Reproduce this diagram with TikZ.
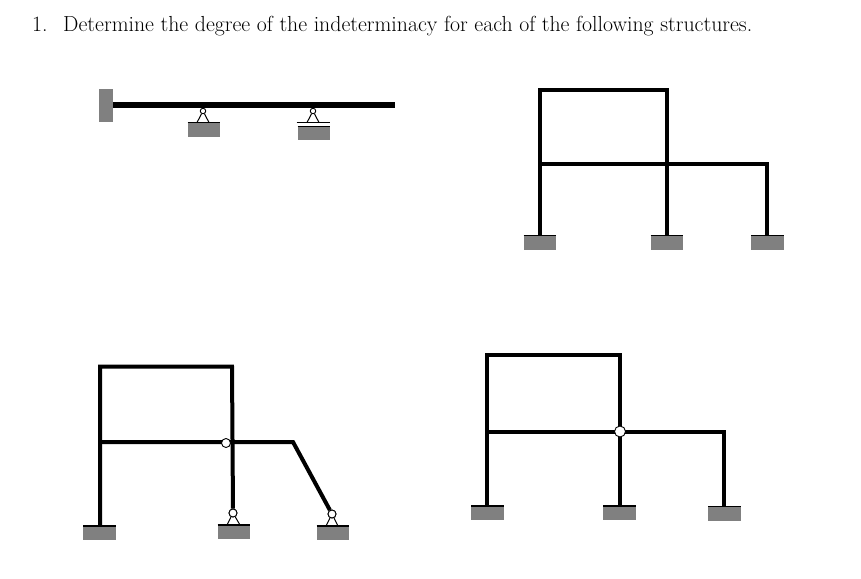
\documentclass[tikz,border=0pt]{standalone}
\usetikzlibrary{calc}
\definecolor{groundgray}{gray}{0.5}
\tikzstyle{ground} = [fill=groundgray, rectangle, anchor=north, inner sep=0pt,
    minimum height=14pt, minimum width=32.5pt]
\tikzstyle{wall} = [fill=groundgray, rectangle, inner sep=0pt,
    minimum height=33pt, minimum width=14pt]
\tikzstyle{pin} = [draw, fill=white, circle, inner sep=0pt, line width=0.9pt, minimum size=8pt]
\tikzstyle{hinge} = [draw, fill=white, circle, inner sep=0pt, line width=0.9pt, minimum size=9pt]
\tikzstyle{member} = [line width=4pt, line join=miter]
\tikzstyle{seat} = [line width=1.3pt]
\tikzstyle{leg} = [line width=1pt]
\tikzstyle{title} = [anchor=base west, inner sep=0pt, font=\fontsize{21.8}{26}\selectfont]

\begin{document}
\begin{tikzpicture}[x=1pt, y=-1pt]
    \useasboundingbox (0,0) rectangle (861,578);
    \node [title] (num) at (32,32) {1.};
    \node [title] (question) at (63,32) {Determine the degree of the indeterminacy for each of the following structures.};

    % propped beam
    \node [wall] (wall) at (106,105.5) {};
    \coordinate (tip) at (395,104.5);
    \node [ground] (base1) at (204,122.5) {};
    \node [ground, minimum height=13pt] (base2) at (314,126.5) {};
    \node [pin, minimum size=5.5pt] (pin1) at (203,111) {};
    \node [pin, minimum size=5.5pt] (pin2) at (313,111) {};
    \draw [member, line width=6pt] (wall.east |- tip) -- (tip);
    \draw [seat] (base1.north west) -- (base1.north east);
    \draw [seat] ($(base2.north west)+(-1,-4)$) -- ($(base2.north east)+(0,-4)$);
    \draw [seat] (base2.north west) -- (base2.north east);
    \draw [leg] (pin1) -- ([xshift=-7pt]base1.north);
    \draw [leg] (pin1) -- ([xshift=5pt]base1.north);
    \draw [leg] (pin2) -- (307,122.5);
    \draw [leg] (pin2) -- (319,122.5);

    % fixed frame
    \coordinate (b1) at (540,89.5);
    \coordinate (b2) at (667,89.5);
    \coordinate (b3) at (540,163.5);
    \coordinate (b4) at (767,163.5);
    \node [ground] (bbase1) at (540,235.5) {};
    \node [ground] (bbase2) at (667,235.5) {};
    \node [ground] (bbase3) at (767.5,235.5) {};
    \draw [member] (bbase1.north) -- (b1) -- (b2) -- (bbase2.north);
    \draw [member] (b3) -- (b4) -- (b4 |- bbase3.north);
    \draw [seat] (bbase1.north west) -- (bbase1.north east);
    \draw [seat] (bbase2.north west) -- (bbase2.north east);
    \draw [seat] (bbase3.north west) -- (bbase3.north east);

    % frame on pins
    \coordinate (c1) at (100,366.5);
    \coordinate (c2) at (232,366.5);
    \coordinate (c3) at (100,442);
    \coordinate (c4) at (293,442);
    \node [ground] (cbase1) at (99.5,526) {};
    \node [ground] (cbase2) at (234,525) {};
    \node [ground] (cbase3) at (333,526) {};
    \node [pin] (cpin2) at (233,513) {};
    \node [pin] (cpin3) at (332,514) {};
    \draw [member] (cbase1.north -| c1) -- (c1) -- (c2) -- (cpin2);
    \draw [member] (c3) -- (c4) -- (cpin3);
    \node [pin] at (cpin2) {};
    \node [pin] at (cpin3) {};
    \node [hinge] (chinge) at (226,443) {};
    \draw [seat] (cbase1.north west) -- (cbase1.north east);
    \draw [seat] (cbase2.north west) -- (cbase2.north east);
    \draw [seat] (cbase3.north west) -- (cbase3.north east);
    \draw [leg] (cpin2) -- (227,525);
    \draw [leg] (cpin2) -- (240,525);
    \draw [leg] (cpin3) -- (326,526);
    \draw [leg] (cpin3) -- (338,526);

    % frame with hinge
    \coordinate (d1) at (487,354.5);
    \coordinate (d2) at (620,354.5);
    \coordinate (d3) at (487,431.5);
    \coordinate (d4) at (724,431.5);
    \node [ground] (dbase1) at (487.5,506) {};
    \node [ground] (dbase2) at (619.5,506) {};
    \node [ground] (dbase3) at (724.5,506.5) {};
    \draw [member] (dbase1.north -| d1) -- (d1) -- (d2) -- (dbase2.north -| d2);
    \draw [member] (d3) -- (d4) -- (d4 |- dbase3.north);
    \node [hinge, minimum size=11pt] (dhinge) at (620,431.5) {};
    \draw [seat] (dbase1.north west) -- (dbase1.north east);
    \draw [seat] (dbase2.north west) -- (dbase2.north east);
    \draw [seat] (dbase3.north west) -- (dbase3.north east);
\end{tikzpicture}
\end{document}
